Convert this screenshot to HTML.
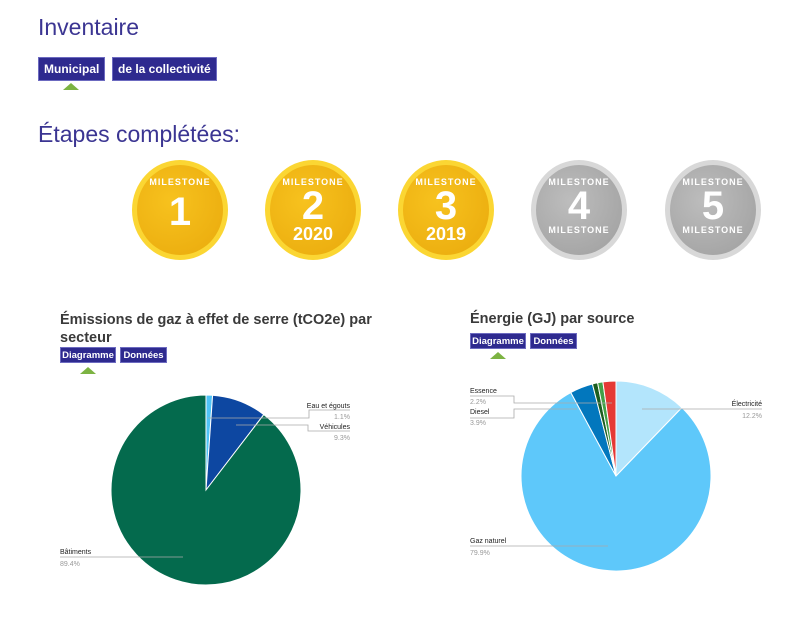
<!DOCTYPE html>
<html><head><meta charset="utf-8"><style>
body{margin:0;width:800px;height:618px;background:#fff;font-family:"Liberation Sans",sans-serif;position:relative;overflow:hidden}
.abs{position:absolute}
.h1{left:38px;top:14px;font-size:23px;color:#3b3592}
.h2{left:38px;top:121px;font-size:23px;color:#3b3592}
.btn{position:absolute;background:#2e2a8f;color:#fff;font-weight:bold;font-size:12px;padding:0 5px;height:22px;line-height:22px;border:1px solid #6c6ac0}
.sbtn{position:absolute;background:#2e2a8f;color:#fff;font-weight:bold;font-size:9.5px;height:16px;line-height:16px;text-align:center;border:1px solid #6c6ac0;box-sizing:border-box}
.tri{position:absolute;width:0;height:0;border-left:8px solid transparent;border-right:8px solid transparent;border-bottom:7px solid #7cb342}
.badge{position:absolute;width:96px;height:100px;border-radius:50%;color:#fff;text-align:center;font-weight:bold;box-sizing:border-box}
.gold{background:radial-gradient(circle at 40% 40%,#f7c21e,#e9a90c);border:5px solid #fbd633}
.grey{background:radial-gradient(circle at 40% 40%,#bdbdbd,#9e9e9e);border:5px solid #d8d8d8}
.badge .m{font-size:9px;margin-top:12px;letter-spacing:1px}
.badge .n{font-size:40px;line-height:38px}
.badge .y{font-size:18px;line-height:18px}
.ct{font-size:14.5px;color:#3a3a3a;font-weight:bold}
</style></head><body>
<div class="abs h1">Inventaire</div>
<div class="btn" style="left:38px;top:57px">Municipal</div>
<div class="btn" style="left:112px;top:57px">de la collectivité</div>
<div class="tri" style="left:63px;top:83px"></div>
<div class="abs h2">Étapes complétées:</div>

<div class="badge gold" style="left:132px;top:160px"><div class="m">MILESTONE</div><div class="n" style="margin-top:6px">1</div></div>
<div class="badge gold" style="left:265px;top:160px"><div class="m">MILESTONE</div><div class="n">2</div><div class="y">2020</div></div>
<div class="badge gold" style="left:398px;top:160px"><div class="m">MILESTONE</div><div class="n">3</div><div class="y">2019</div></div>
<div class="badge grey" style="left:531px;top:160px"><div class="m">MILESTONE</div><div class="n">4</div><div class="m" style="margin-top:0">MILESTONE</div></div>
<div class="badge grey" style="left:665px;top:160px"><div class="m">MILESTONE</div><div class="n">5</div><div class="m" style="margin-top:0">MILESTONE</div></div>

<div class="abs ct" style="left:60px;top:311px;line-height:18px">Émissions de gaz à effet de serre (tCO2e) par<br>secteur</div>
<div class="sbtn" style="left:60px;top:347px;width:56px">Diagramme</div>
<div class="sbtn" style="left:120px;top:347px;width:47px">Données</div>
<div class="tri" style="left:80px;top:367px"></div>

<div class="abs ct" style="left:470px;top:311px">Énergie (GJ) par source</div>
<div class="sbtn" style="left:470px;top:333px;width:56px">Diagramme</div>
<div class="sbtn" style="left:530px;top:333px;width:47px">Données</div>
<div class="tri" style="left:490px;top:352px"></div>

<svg class="abs" style="left:0;top:0" width="800" height="618" font-family="Liberation Sans,sans-serif" font-size="7">
<g stroke="#fff" stroke-width="1">
<path d="M206,490 L206,395 A95,95 0 0 1 212.6,395.2 Z" fill="#4fc3f7"/>
<path d="M206,490 L212.6,395.2 A95,95 0 0 1 263.8,414.6 Z" fill="#0d47a1"/>
<path d="M206,490 L263.8,414.6 A95,95 0 1 1 206,395 Z" fill="#046a4d"/>
</g>
<g stroke="#aaa" stroke-width="0.8" fill="none">
<polyline points="208,418 309,418 309,410 350,410"/>
<polyline points="236,425 308,425 308,431 350,431"/>
<polyline points="183,557 60,557"/>
</g>
<g fill="#222"><text x="350" y="408" text-anchor="end">Eau et égouts</text><text x="350" y="429" text-anchor="end">Véhicules</text><text x="60" y="554">Bâtiments</text></g>
<g fill="#999"><text x="350" y="419" text-anchor="end">1.1%</text><text x="350" y="440" text-anchor="end">9.3%</text><text x="60" y="566">89.4%</text></g>

<g stroke="#fff" stroke-width="1">
<path d="M616,476 L616,381 A95,95 0 0 1 681.9,407.6 Z" fill="#b3e5fc"/>
<path d="M616,476 L681.9,407.6 A95,95 0 1 1 570.8,392.5 Z" fill="#5ec8fa"/>
<path d="M616,476 L570.8,392.5 A95,95 0 0 1 592.4,384 Z" fill="#0277bd"/>
<path d="M616,476 L592.4,384 A95,95 0 0 1 597.6,382.8 Z" fill="#1b5e20"/>
<path d="M616,476 L597.6,382.8 A95,95 0 0 1 602.9,381.9 Z" fill="#43a047"/>
<path d="M616,476 L602.9,381.9 A95,95 0 0 1 616,381 Z" fill="#e53935"/>
</g>
<g stroke="#aaa" stroke-width="0.8" fill="none">
<polyline points="470,396 514,396 514,403 612,403"/>
<polyline points="577,409 514,409 514,418 470,418"/>
<polyline points="642,409 762,409"/>
<polyline points="608,546 470,546"/>
</g>
<g fill="#222"><text x="470" y="393">Essence</text><text x="470" y="414">Diesel</text><text x="762" y="406" text-anchor="end">Électricité</text><text x="470" y="543">Gaz naturel</text></g>
<g fill="#999"><text x="470" y="404">2.2%</text><text x="470" y="425">3.9%</text><text x="762" y="418" text-anchor="end">12.2%</text><text x="470" y="555">79.9%</text></g>
</svg>
</body></html>
